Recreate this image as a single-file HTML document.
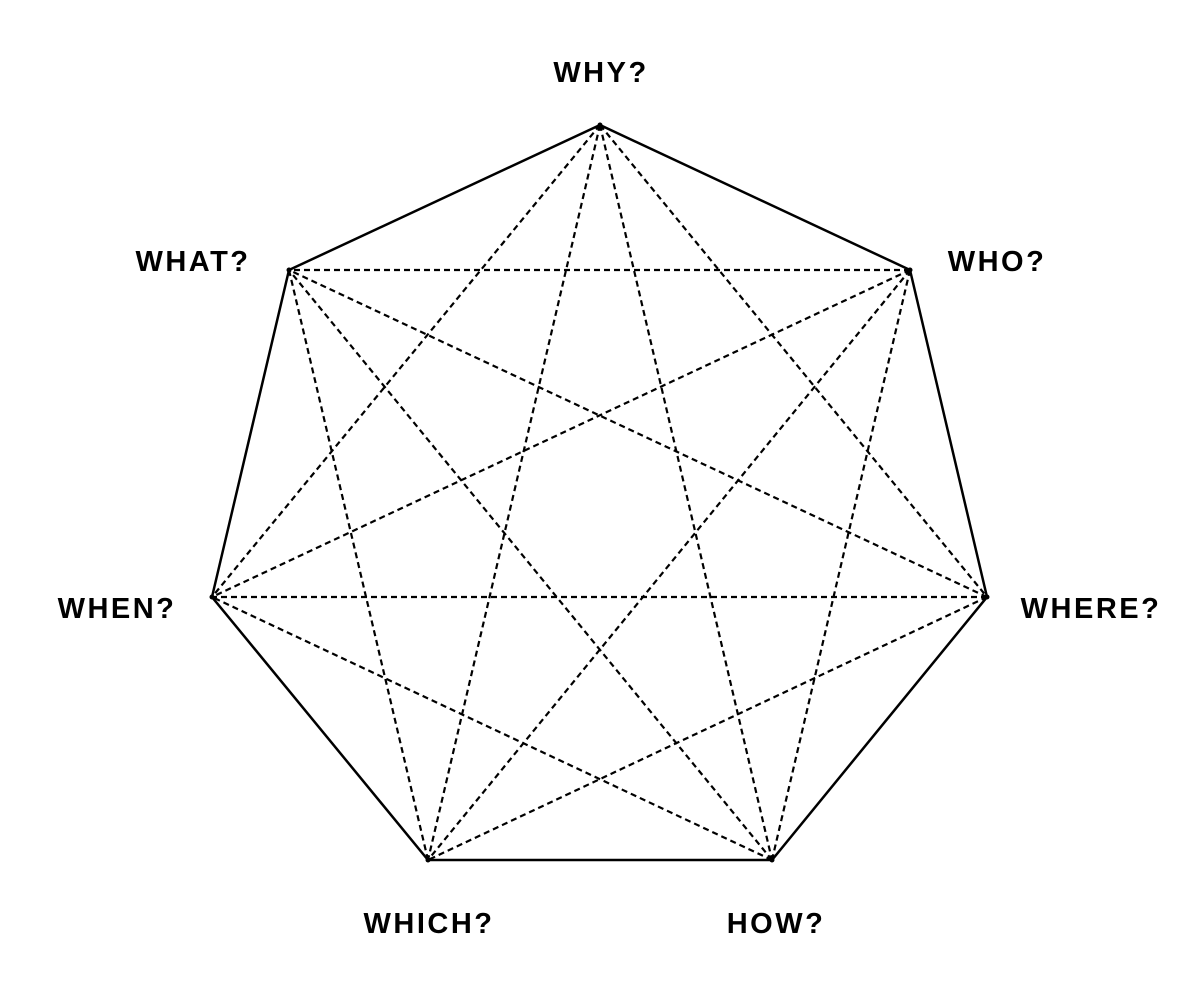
<!DOCTYPE html>
<html><head><meta charset="utf-8"><style>
html,body{margin:0;padding:0;background:#fff;width:1200px;height:1000px;overflow:hidden}
text{font-family:"Liberation Sans",sans-serif;font-weight:bold;font-size:29px;letter-spacing:2.5px;fill:#000}
</style></head><body>
<svg width="1200" height="1000" viewBox="0 0 1200 1000">
<g stroke="#000" stroke-width="2.2" stroke-dasharray="6,4" fill="none">
<line x1="600" y1="125" x2="987" y2="597"/>
<line x1="600" y1="125" x2="772" y2="860"/>
<line x1="600" y1="125" x2="428" y2="860"/>
<line x1="600" y1="125" x2="212" y2="597"/>
<line x1="910" y1="270" x2="772" y2="860"/>
<line x1="910" y1="270" x2="428" y2="860"/>
<line x1="910" y1="270" x2="212" y2="597"/>
<line x1="910" y1="270" x2="289" y2="270"/>
<line x1="987" y1="597" x2="428" y2="860"/>
<line x1="987" y1="597" x2="212" y2="597"/>
<line x1="987" y1="597" x2="289" y2="270"/>
<line x1="772" y1="860" x2="212" y2="597"/>
<line x1="772" y1="860" x2="289" y2="270"/>
<line x1="428" y1="860" x2="289" y2="270"/>
</g>
<polygon points="600,125 910,270 987,597 772,860 428,860 212,597 289,270" fill="none" stroke="#000" stroke-width="2.5"/>
<g fill="#000">
<circle cx="600" cy="125" r="2.5"/><circle cx="910" cy="270" r="2.5"/><circle cx="987" cy="597" r="2.5"/>
<circle cx="772" cy="860" r="2.5"/><circle cx="428" cy="860" r="2.5"/><circle cx="212" cy="597" r="2.5"/><circle cx="289" cy="270" r="2.5"/>
</g>
<text x="601" y="82" text-anchor="middle">WHY?</text>
<text x="193" y="271" text-anchor="middle">WHAT?</text>
<text x="997" y="271" text-anchor="middle">WHO?</text>
<text x="117" y="618" text-anchor="middle">WHEN?</text>
<text x="1091" y="618" text-anchor="middle">WHERE?</text>
<text x="429" y="933" text-anchor="middle">WHICH?</text>
<text x="776" y="933" text-anchor="middle">HOW?</text>
</svg>
</body></html>
